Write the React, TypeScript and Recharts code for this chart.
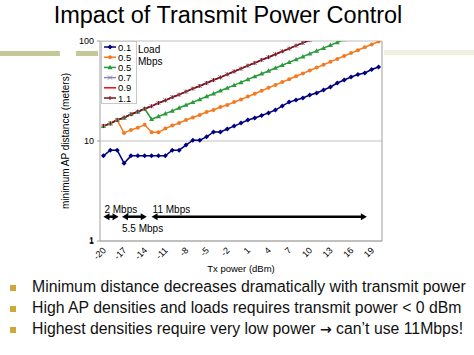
import React from 'react';
import { LineChart, Line, XAxis, YAxis, CartesianGrid, ReferenceLine } from 'recharts';

const txPower = [-20, -19, -18, -17, -16, -15, -14, -13, -12, -11, -10, -9, -8, -7, -6, -5, -4, -3, -2, -1, 0,
  1, 2, 3, 4, 5, 6, 7, 8, 9, 10, 11, 12, 13, 14, 15, 16, 17, 18, 19, 20];
const tickLabels = [-20, -17, -14, -11, -8, -5, -2, 1, 4, 7, 10, 13, 16, 19];
const yTicks = [1, 10, 100];

// minimum AP distance (meters) per load
const load01 = [7.1, 8.1, 8.1, 6.0, 7.1, 7.1, 7.1, 7.1, 7.1, 7.1, 8.1, 8.1, 9.1, 10.2, 10.2, 11.0, 12.3, 12.3, 13.2, 14.1,
  15.1, 16.2, 17.0, 18.0, 19.1, 20.4, 22.4, 24.5, 25.7, 26.9, 28.8, 30.2, 32.4, 34.7, 38.0, 40.7, 43.7, 46.2, 47.9, 51.9, 55.0];
const load05a = [14.1, 15.0, 16.2, 12.0, 12.9, 13.6, 14.5, 12.2, 12.2, 13.3, 14.3, 15.1, 16.2, 17.2, 18.2, 19.5, 20.4, 21.9, 22.9, 24.5,
  26.0, 27.8, 29.7, 31.8, 34.0, 36.3, 38.8, 41.5, 44.4, 47.4, 50.7, 54.2, 57.9, 61.9, 66.2, 70.8, 75.7, 80.9, 86.5, 92.5, 98.9];
const load05b = [14.1, 15.0, 16.2, 17.1, 18.5, 19.6, 21.0, 16.5, 17.6, 18.8, 20.0, 21.4, 22.9, 24.4, 26.1, 27.9, 29.7, 31.8, 33.9, 36.2,
  38.6, 41.3, 44.1, 47.1, 50.2, 53.7, 57.3, 61.2, 65.3, 69.8, 74.5, 79.6, 84.9, 90.8, 96.8, 103.5, 110.4];
const load07 = [14.1, 15.0, 16.2, 17.1, 18.5, 19.6, 21.0, 22.3, 24.0, 25.5, 27.4, 29.1, 31.2, 33.4, 35.5, 38.0, 40.7, 43.3, 46.4, 49.6,
  52.9, 56.7, 60.3, 64.7, 68.9, 73.6, 78.8, 84.0, 90.0, 95.8, 102.5, 109.7, 117.0];
const load09 = load07;
const load11 = load07;

const series = [
  { key: 'l01', name: '0.1', color: '#000080', marker: 'diamond' },
  { key: 'l05a', name: '0.5', color: '#f47a20', marker: 'circle' },
  { key: 'l05b', name: '0.5', color: '#2a9a3a', marker: 'triangle' },
  { key: 'l07', name: '0.7', color: '#8888a8', marker: 'x' },
  { key: 'l09', name: '0.9', color: '#ff0000', marker: 'none' },
  { key: 'l11', name: '1.1', color: '#7a1010', marker: 'dash' },
];

const rows = txPower.map((x, i) => ({
  x,
  l01: load01[i],
  l05a: load05a[i],
  l05b: load05b[i],
  l07: load07[i],
  l09: load09[i],
  l11: load11[i],
}));

const boundaryTicks = txPower.map((v) => v - 0.5).concat([20.5]);
const FONT = '"Liberation Sans", Arial, sans-serif';

function Marker({ shape, cx, cy, color }: any) {
  if (shape === 'diamond') return <path d={`M${cx},${cy - 2.5}L${cx + 2.5},${cy}L${cx},${cy + 2.5}L${cx - 2.5},${cy}Z`} fill={color} />;
  if (shape === 'circle') return <circle cx={cx} cy={cy} r={2} fill={color} />;
  if (shape === 'triangle') return <path d={`M${cx},${cy - 2.6}L${cx + 2.5},${cy + 1.8}L${cx - 2.5},${cy + 1.8}Z`} fill={color} />;
  if (shape === 'x')
    return (
      <path d={`M${cx - 2},${cy - 2}L${cx + 2},${cy + 2}M${cx - 2},${cy + 2}L${cx + 2},${cy - 2}`} stroke={color} strokeWidth={1} />
    );
  if (shape === 'dash') return <path d={`M${cx},${cy - 2}L${cx},${cy + 2}`} stroke={color} strokeWidth={1} />;
  return <g />;
}

const RotTick = ({ x, y, payload }: any) => (
  <text x={x + 3} y={y + 5} transform={`rotate(-45 ${x + 3} ${y + 5})`} textAnchor="end" fontSize={9} fill="#000" fontFamily={FONT}>
    {payload.value}
  </text>
);

const YTick = ({ x, y, payload }: any) => (
  <text x={x} y={y + 3} textAnchor="end" fontSize={9} fill="#000" fontFamily={FONT}>
    {Math.round(payload.value)}
  </text>
);

const YLabel = ({ viewBox }: any) => {
  const x = viewBox.x + 4;
  const y = viewBox.y + viewBox.height / 2;
  return (
    <text x={x} y={y} transform={`rotate(-90 ${x} ${y})`} textAnchor="middle" fontSize={10} fill="#000" fontFamily={FONT}>
      minimum AP distance (meters)
    </text>
  );
};

const XLabel = ({ viewBox }: any) => (
  <text x={viewBox.x + viewBox.width / 2} y={viewBox.y + 26} textAnchor="middle" fontSize={9.5} fill="#000" fontFamily={FONT}>
    Tx power (dBm)
  </text>
);

const arrow = (label: string, below: boolean) => (p: any) => {
  const { x1, y1, x2, y2 } = p;
  const h = 6;
  const w = 3.5;
  return (
    <g>
      <line x1={x1 + h - 1} y1={y1} x2={x2 - h + 1} y2={y2} stroke="#000" strokeWidth={2.5} />
      <path d={`M${x1},${y1}L${x1 + h},${y1 - w}L${x1 + h},${y1 + w}Z`} fill="#000" />
      <path d={`M${x2},${y2}L${x2 - h},${y2 - w}L${x2 - h},${y2 + w}Z`} fill="#000" />
      <text x={x1 + (below ? 0 : 1)} y={below ? y1 + 15 : y1 - 4} fontSize={10} fill="#000" fontFamily={FONT}>
        {label}
      </text>
    </g>
  );
};

const rates = [
  { label: '2 Mbps', from: -20, to: -17.8, below: false },
  { label: '5.5 Mbps', from: -17.3, to: -13.7, below: true },
  { label: '11 Mbps', from: -13, to: 18.3, below: false },
];
const rateY = 1.75;

const bullets = [
  ['Minimum distance decreases dramatically with transmit power'],
  ['High AP densities and loads requires transmit power < 0 dBm'],
  ['Highest densities require very low power ', '\u2192', ' can\u2019t use 11Mbps!'],
];

function LegendBox() {
  return (
    <svg width={60} height={64} style={{ position: 'absolute', left: 101, top: 41 }}>
      <rect x={0.5} y={0.5} width={35} height={62} fill="#fff" stroke="#c8c8c8" />
      {series.map((s, i) => {
        const cy = 6 + i * 10.2;
        return (
          <g key={s.key}>
            <line x1={3} y1={cy} x2={15} y2={cy} stroke={s.color} strokeWidth={1.5} />
            <Marker shape={s.marker} cx={9} cy={cy} color={s.color} />
            <text x={17} y={cy + 3.5} fontSize={9.5} fontFamily={FONT} fill="#000">
              {s.name}
            </text>
          </g>
        );
      })}
    </svg>
  );
}

export default function App() {
  return (
    <div style={{ position: 'absolute', left: 0, top: 0, width: 474, height: 355, background: '#fff', fontFamily: FONT, overflow: 'hidden' }}>
      <div style={{ position: 'absolute', left: 0, top: 50.5, width: 60, height: 5, background: '#c5c795' }} />
      <div style={{ position: 'absolute', left: 76, top: 50.5, width: 22, height: 5, background: '#c5c795' }} />
      <div style={{ position: 'absolute', left: 384, top: 50, width: 90, height: 5, background: '#f0efe2' }} />
      <div style={{ position: 'absolute', left: 0, top: 3.5, width: 456, textAlign: 'center', fontSize: 23.5, lineHeight: '23.5px', color: '#000' }}>
        Impact of Transmit Power Control
      </div>
      <div style={{ position: 'absolute', left: 0, top: 0 }}>
        <LineChart width={474} height={355} data={rows} margin={{ top: 41, right: 92, left: 65, bottom: 69 }}>
          <CartesianGrid horizontal vertical={false} stroke="#c0c0c0" />
          <XAxis
            dataKey="x"
            type="number"
            domain={[-20.5, 20.5]}
            ticks={boundaryTicks}
            interval={0}
            allowDataOverflow
            tick={false}
            tickSize={3}
            height={5}
            stroke="#a0a0a0"
          />
          <XAxis
            xAxisId="lab"
            dataKey="x"
            type="number"
            domain={[-20.5, 20.5]}
            ticks={tickLabels}
            interval={0}
            allowDataOverflow
            axisLine={false}
            tickLine={false}
            tickSize={0}
            tickMargin={0}
            height={40}
            tick={<RotTick />}
            label={{ content: XLabel } as any}
          />
          <YAxis
            scale="log"
            type="number"
            domain={[1, 100]}
            ticks={yTicks}
            interval={0}
            allowDataOverflow
            width={35}
            tickSize={3}
            tickMargin={3}
            stroke="#a0a0a0"
            tick={<YTick />}
            label={{ content: YLabel } as any}
          />
          <ReferenceLine x={20.5} stroke="#a0a0a0" />
          {series.map((s) => (
            <Line
              key={s.key}
              dataKey={s.key}
              stroke={s.color}
              strokeWidth={1.5}
              isAnimationActive={false}
              dot={(p: any) =>
                p.cy == null ? <g key={p.index} /> : <Marker key={p.index} shape={s.marker} cx={p.cx} cy={p.cy} color={s.color} />
              }
              activeDot={false}
            />
          ))}
          {rates.map((r) => (
            <ReferenceLine
              key={r.label}
              segment={[{ x: r.from, y: rateY }, { x: r.to, y: rateY }]}
              shape={arrow(r.label, r.below)}
            />
          ))}
        </LineChart>
      </div>
      {/* bottom decade label of the log axis, which the axis itself leaves out */}
      <div style={{ position: 'absolute', left: 74, top: 236, width: 20, textAlign: 'right', fontSize: 9, lineHeight: '9px', color: '#000' }}>
        {yTicks[0]}
      </div>
      <LegendBox />
      <div style={{ position: 'absolute', left: 138, top: 44, fontSize: 10, lineHeight: '12.3px', color: '#000' }}>
        Load
        <br />
        Mbps
      </div>
      {bullets.map((b, i) => (
        <div key={i}>
          <div style={{ position: 'absolute', left: 9.5, top: 284.5 + i * 21, width: 6, height: 6, background: '#cfa83a' }} />
          <div style={{ position: 'absolute', left: 32, top: 279 + i * 20.8, fontSize: 15.8, lineHeight: '15.8px', color: '#111', whiteSpace: 'nowrap' }}>
            {b[0]}
            {b.length > 1 && <span style={{ fontFamily: '"DejaVu Sans", sans-serif', fontWeight: 'bold', fontSize: 14 }}>{b[1]}</span>}
            {b.length > 1 && b[2]}
          </div>
        </div>
      ))}
    </div>
  );
}
